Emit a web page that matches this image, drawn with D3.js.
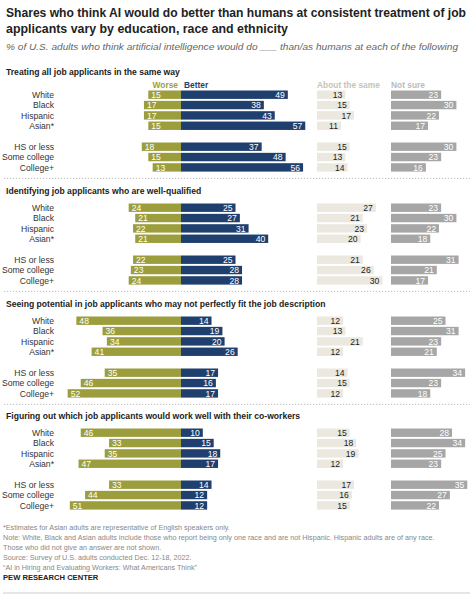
<!DOCTYPE html>
<html><head><meta charset="utf-8">
<script src="https://cdn.jsdelivr.net/npm/d3@7"></script>
<style>body{margin:0;background:#fff}text{font-family:"Liberation Sans",Arial,sans-serif}</style>
</head><body><svg id="c" width="474" height="596"></svg>
<script>
const groups = ["White","Black","Hispanic","Asian*","HS or less","Some college","College+"];
const sections = ["Treating all job applicants in the same way","Identifying job applicants who are well-qualified","Seeing potential in job applicants who may not perfectly fit the job description","Figuring out which job applicants would work well with their co-workers"];
const worse = [[15,17,17,15,18,15,13],[24,21,22,21,22,23,24],[48,36,34,41,35,46,52],[46,33,35,47,33,44,51]];
const better = [[49,38,43,57,37,48,56],[25,27,31,40,25,28,28],[14,19,20,26,17,16,17],[10,15,18,17,14,12,12]];
const same = [[13,15,17,11,15,13,14],[27,21,23,20,21,26,30],[12,13,21,12,14,15,12],[15,18,19,12,17,16,15]];
const notSure = [[23,30,22,17,30,23,16],[23,30,22,18,31,21,17],[25,31,23,21,34,23,18],[28,34,25,23,35,27,22]];

const svg = d3.select("#c");
const cx = 181, u = 2.18;
const xB = d3.scaleLinear().domain([0,60]).range([cx, cx+60*u]);
const xW = d3.scaleLinear().domain([0,60]).range([cx, cx-60*u]);
const xS = d3.scaleLinear().domain([0,40]).range([317, 317+40*u]);
const xN = d3.scaleLinear().domain([0,40]).range([391, 391+40*u]);
const C = {w:"#9c9e3d", b:"#1f3f6e", s:"#ebe8e0", n:"#a6a6a6"};

svg.append("text").attr("x",6).attr("y",17).attr("font-size",12.6).attr("font-weight","bold").attr("fill","#222").attr("textLength",460).attr("lengthAdjust","spacingAndGlyphs").text("Shares who think AI would do better than humans at consistent treatment of job");
svg.append("text").attr("x",6).attr("y",33).attr("font-size",12.6).attr("font-weight","bold").attr("fill","#222").attr("textLength",282).attr("lengthAdjust","spacingAndGlyphs").text("applicants vary by education, race and ethnicity");
svg.append("text").attr("x",6).attr("y",50).attr("font-size",8.6).attr("font-style","italic").attr("fill","#666").attr("textLength",452).attr("lengthAdjust","spacingAndGlyphs").text("% of U.S. adults who think artificial intelligence would do ___ than/as humans at each of the following");

const firstRow = [94.7, 207.7, 320.7, 432.7];
const rowY = i => (i<4 ? i*10.35 : 52 + (i-4)*10.35);
const bh = 8.4;
sections.forEach((s,k)=>{
  const y0 = firstRow[k];
  const g = svg.append("g");
  g.append("text").attr("x",6).attr("y", y0 - (k==0?20:14)).attr("font-size",8.6).attr("font-weight","bold").attr("fill","#222").text(s);
  if(k==0){
    g.append("text").attr("x",cx-3).attr("y",y0-7).attr("text-anchor","end").attr("font-size",8.4).attr("font-weight","bold").attr("fill",C.w).text("Worse");
    g.append("text").attr("x",cx+3).attr("y",y0-7).attr("font-size",8.4).attr("font-weight","bold").attr("fill",C.b).text("Better");
    g.append("text").attr("x",317).attr("y",y0-7).attr("font-size",8.4).attr("font-weight","bold").attr("fill","#c8c4b4").text("About the same");
    g.append("text").attr("x",391).attr("y",y0-7).attr("font-size",8.4).attr("font-weight","bold").attr("fill","#bbb").text("Not sure");
  }
  groups.forEach((gr,i)=>{
    const y = y0 + rowY(i);
    g.append("text").attr("x",54).attr("y",y+3.2).attr("text-anchor","end").attr("font-size",8.6).attr("fill","#333").text(gr);
    g.append("rect").attr("x",xW(worse[k][i])).attr("y",y-bh/2).attr("width",cx-xW(worse[k][i])).attr("height",bh).attr("fill",C.w);
    g.append("rect").attr("x",cx).attr("y",y-bh/2).attr("width",xB(better[k][i])-cx).attr("height",bh).attr("fill",C.b);
    g.append("rect").attr("x",xS(0)).attr("y",y-bh/2).attr("width",xS(same[k][i])-xS(0)).attr("height",bh).attr("fill",C.s);
    g.append("rect").attr("x",xN(0)).attr("y",y-bh/2).attr("width",xN(notSure[k][i])-xN(0)).attr("height",bh).attr("fill",C.n);
    const t = (x,anchor,col,v)=>g.append("text").attr("x",x).attr("y",y+3.2).attr("text-anchor",anchor).attr("font-size",8.6).attr("fill",col).text(v);
    t(xW(worse[k][i])+3,"start","#fff",worse[k][i]);
    t(xB(better[k][i])-3,"end","#fff",better[k][i]);
    t(xS(same[k][i])-3,"end","#222",same[k][i]);
    t(xN(notSure[k][i])-3,"end","#fff",notSure[k][i]);
  });
  if(k<3){
    const ly = y0 + rowY(6) + 11;
    g.append("line").attr("x1",4).attr("x2",470).attr("y1",ly).attr("y2",ly).attr("stroke","#bbb").attr("stroke-dasharray","1.2,1.8");
  }
});
const notes = ["*Estimates for Asian adults are representative of English speakers only.",
"Note: White, Black and Asian adults include those who report being only one race and are not Hispanic. Hispanic adults are of any race.",
"Those who did not give an answer are not shown.",
"Source: Survey of U.S. adults conducted Dec. 12-18, 2022.",
"\u201cAI in Hiring and Evaluating Workers: What Americans Think\u201d"];
notes.forEach((n,i)=>svg.append("text").attr("x",3).attr("y",530+i*10).attr("font-size",7.2).attr("fill","#888").text(n));
svg.append("text").attr("x",3).attr("y",580).attr("font-size",7.6).attr("font-weight","bold").attr("fill","#222").text("PEW RESEARCH CENTER");
svg.append("line").attr("x1",3).attr("x2",470).attr("y1",593).attr("y2",593).attr("stroke","#ccc");
</script></body></html>
